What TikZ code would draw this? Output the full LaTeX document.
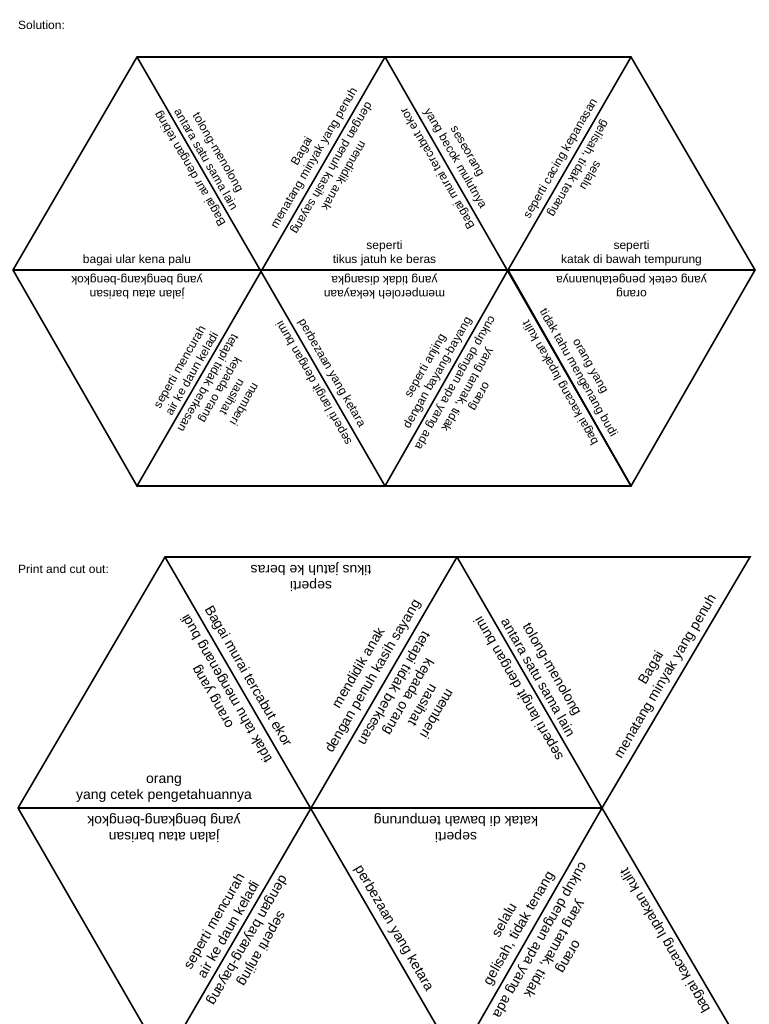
\documentclass[tikz,border=0pt]{standalone}
\usepackage{fontspec}
\setmainfont{Liberation Sans}
\usetikzlibrary{calc}
\tikzset{
  tt/.style={font=\fontsize{12}{14}\selectfont, align=center, inner sep=4pt},
  tb/.style={font=\fontsize{14}{16.5}\selectfont, align=center, inner sep=5pt},
  edge/.style={line width=1.6pt, line join=miter},
}
\newcommand\et[4][tt]{\path let \p1=($(#3)-(#2)$), \n1={atan2(\y1,\x1)} in ($(#2)!0.5!(#3)$) node[#1, rotate=\n1, anchor=south] {#4};}
\begin{document}
\begin{tikzpicture}[x=1pt,y=-1pt]
\useasboundingbox (0,0) rectangle (768,1024);
\clip (0,0) rectangle (768,1024);
\fill[white] (0,0) rectangle (768,1024);
\node[tt, anchor=base west, inner sep=0] (sol) at (18,30) {Solution:};
\node[tt, anchor=base west, inner sep=0] (pc) at (18,573) {Print and cut out:};
% top hexagon
\coordinate (P0) at (137,57); \coordinate (P1) at (385,57); \coordinate (P2) at (631,57);
\coordinate (M0) at (13,270); \coordinate (M1) at (261,270); \coordinate (M2) at (508,270); \coordinate (M3) at (755,270);
\coordinate (B0) at (137,486); \coordinate (B1) at (385,486); \coordinate (B2) at (631,486);
\draw[edge] (M0)--(P0)--(P2)--(M3)--(B2)--(B0)--cycle;
\draw[edge] (M0)--(M3);
\draw[edge] (P0)--(B1); \draw[edge] (P1)--(B2); \draw[edge] (P2)--(M2)--(B1);
\draw[edge] (B0)--(P1); \draw[edge] (M2)--(B2);
\et{M0}{M1}{bagai ular kena palu}
\et{M1}{P0}{Bagai aur dengan tebing}
\et{P0}{M1}{tolong-menolong\\antara satu sama lain}
\et{M1}{P1}{Bagai\\menatang minyak yang penuh}
\et{M1}{M2}{seperti\\tikus jatuh ke beras}
\et{M2}{P1}{Bagai murai tercabut ekor}
\et{P1}{M1}{mendidik anak\\dengan penuh kasih sayang}
\et{P1}{M2}{seseorang\\yang becok mulutnya}
\et{M2}{P2}{seperti cacing kepanasan}
\et{M2}{M3}{seperti\\katak di bawah tempurung}
\et{P2}{M2}{selalu\\gelisah, tidak tenang}
\et{M1}{M0}{jalan atau barisan\\yang bengkang-bengkok}
\et{B0}{M1}{seperti mencurah\\air ke daun keladi}
\et{M1}{B0}{memberi\\nasihat\\kepada orang\\tetapi tidak berkesan}
\et{B1}{M1}{seperti langit dengan bumi}
\et{M2}{M1}{memperoleh kekayaan\\yang tidak disangka}
\et{M1}{B1}{perbezaan yang ketara}
\et{B1}{M2}{seperti anjing\\dengan bayang-bayang}
\et{M2}{B1}{orang\\yang tamak, tidak\\cukup dengan apa yang ada}
\et{B2}{M2}{bagai kacang lupakan kulit}
\et{M3}{M2}{orang\\yang cetek pengetahuannya}
\et{M2}{B2}{orang yang\\tidak tahu mengenang budi}
% bottom
\coordinate (T0) at (165,557); \coordinate (T1) at (457,557); \coordinate (T2) at (750,557);
\coordinate (N0) at (18,808); \coordinate (N1) at (310,808); \coordinate (N2) at (602,808);
\coordinate (L0) at (164,1061); \coordinate (L1) at (457,1061); \coordinate (L2) at (750,1061);
\draw[edge] (N0)--(T0)--(T2)--(N2)--(L2);
\draw[edge] (N0)--(N2);
\draw[edge] (T0)--(L1); \draw[edge] (N0)--(L0)--(T1);
\draw[edge] (T1)--(N2)--(L1);
\et[tb]{N0}{N1}{orang\\yang cetek pengetahuannya}
\et[tb]{N1}{T0}{orang yang\\tidak tahu mengenang budi}
\et[tb]{T1}{T0}{seperti\\tikus jatuh ke beras}
\et[tb]{T0}{N1}{Bagai murai tercabut ekor}
\et[tb]{N1}{T1}{mendidik anak\\dengan penuh kasih sayang}
\et[tb]{T1}{N1}{memberi\\nasihat\\kepada orang\\tetapi tidak berkesan}
\et[tb]{N2}{T1}{seperti langit dengan bumi}
\et[tb]{T1}{N2}{tolong-menolong\\antara satu sama lain}
\et[tb]{N2}{T2}{Bagai\\menatang minyak yang penuh}
\et[tb]{N1}{N0}{jalan atau barisan\\yang bengkang-bengkok}
\et[tb]{L0}{N1}{seperti mencurah\\air ke daun keladi}
\et[tb]{N1}{L0}{seperti anjing\\dengan bayang-bayang}
\et[tb]{N2}{N1}{seperti\\katak di bawah tempurung}
\et[tb]{N1}{L1}{perbezaan yang ketara}
\et[tb]{L1}{N2}{selalu\\gelisah, tidak tenang}
\et[tb]{N2}{L1}{orang\\yang tamak, tidak\\cukup dengan apa yang ada}
\et[tb]{L2}{N2}{bagai kacang lupakan kulit}
\end{tikzpicture}
\end{document}
